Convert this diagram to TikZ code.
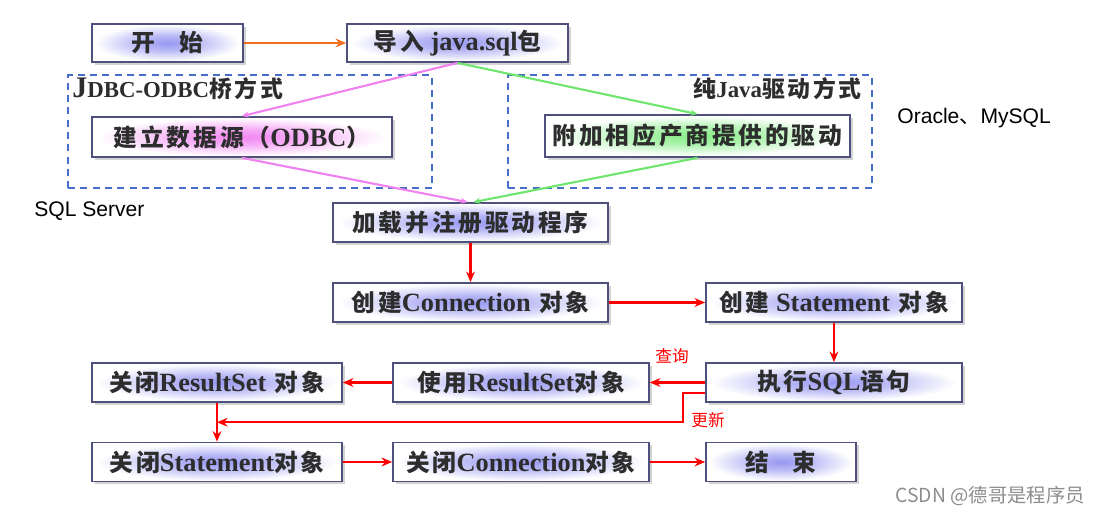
\documentclass[tikz,border=0pt]{standalone}
\usepackage{fontspec}
\setmainfont{Liberation Serif}
\newfontfamily\zh[LetterSpace=12]{Noto Sans CJK SC}
\newfontfamily\zhs{Noto Sans CJK SC}
\newfontfamily\arial{Liberation Sans}
\usetikzlibrary{shadows,arrows.meta,calc}
\definecolor{boxc}{RGB}{80,80,125}
\definecolor{txt}{RGB}{45,45,45}
\definecolor{glowb}{RGB}{140,140,240}
\definecolor{glowp}{RGB}{240,120,240}
\definecolor{glowg}{RGB}{120,235,120}
\definecolor{dashc}{RGB}{70,110,200}
\definecolor{orng}{RGB}{240,110,30}
\definecolor{pinkl}{RGB}{240,130,240}
\definecolor{greenl}{RGB}{110,230,110}
\pgfdeclareradialshading{glowB}{\pgfpoint{0bp}{0bp}}{color(0bp)=(glowb!90!white); color(10bp)=(glowb!60!white); color(24bp)=(white); color(50bp)=(white)}
\pgfdeclareradialshading{glowP}{\pgfpoint{0bp}{0bp}}{color(0bp)=(glowp!90!white); color(10bp)=(glowp!60!white); color(24bp)=(white); color(50bp)=(white)}
\pgfdeclareradialshading{glowG}{\pgfpoint{0bp}{0bp}}{color(0bp)=(glowg!90!white); color(10bp)=(glowg!60!white); color(24bp)=(white); color(50bp)=(white)}
\newcommand{\Z}[1]{{\zh\bfseries\fontsize{13.5}{15}\selectfont #1}}
\tikzset{
  box/.style={draw=boxc, line width=1pt, shade, shading=glowB,
    drop shadow={shadow xshift=1.5pt, shadow yshift=-1.5pt, opacity=0.35},
    minimum height=0.78cm, inner sep=0pt, text=txt,
    font=\bfseries\fontsize{15}{17}\selectfont},
  dbox/.style={draw=dashc, line width=1.1pt, dash pattern=on 4pt off 3pt},
  redarr/.style={red, line width=1.2pt, -{Stealth[length=6pt,width=5pt]}},
  pinkarr/.style={pinkl, line width=1.2pt, -{Stealth[length=4pt,width=3.5pt]}},
  greenarr/.style={greenl, line width=1.2pt, -{Stealth[length=4pt,width=3.5pt]}},
  lab/.style={font=\arial\fontsize{12}{14}\selectfont, text=black},
  redlab/.style={font=\zhs\fontsize{9.5}{11}\selectfont, text=red},
}
\begin{document}
\begin{tikzpicture}[x=0.02cm, y=-0.02cm]
\useasboundingbox (0,0) rectangle (1100,516);
% dashed groups
\node[dbox, minimum width=7.28cm, minimum height=2.26cm] (g1) at (250,131.5) {};
\node[dbox, minimum width=7.28cm, minimum height=2.26cm] (g2) at (690,131.5) {};
\node[anchor=west, inner sep=0pt, text=txt, font=\bfseries\fontsize{13}{15}\selectfont] (g1t) at (72,89) {{\fontsize{17}{17}\selectfont J}DBC-ODBC{\zh\fontsize{13}{15}\selectfont 桥方式}};
\node[anchor=east, inner sep=0pt, text=txt, font=\bfseries\fontsize{13}{15}\selectfont] (g2t) at (862,89) {{\zh\fontsize{13}{15}\selectfont 纯}Java{\zh\fontsize{13}{15}\selectfont 驱动方式}};
% boxes
\node[box, minimum width=3.02cm, minimum height=0.76cm] (start) at (167.5,43) {\Z{开\quad 始}};
\node[box, minimum width=4.42cm, minimum height=0.76cm] (import) at (457.5,43) {\Z{导入} java.sql\Z{包}};
\node[box, shading=glowP, minimum width=6cm, minimum height=0.8cm] (odbc) at (242,137) {\Z{建立数据源（}ODBC\Z{）}};
\node[box, shading=glowG, minimum width=6.1cm, minimum height=0.84cm] (vendor) at (697.5,136) {\Z{附加相应产商提供的驱动}};
\node[box, minimum width=5.5cm] (load) at (470.5,222.5) {\Z{加载并注册驱动程序}};
\node[box, minimum width=5.5cm] (conn) at (470.5,302.5) {\Z{创建}Connection\Z{ 对象}};
\node[box, minimum width=5.12cm] (stmt) at (834,302.5) {\Z{创建} Statement\Z{ 对象}};
\node[box, minimum width=5.12cm] (exec) at (834,382.5) {\Z{执行}SQL\Z{语句}};
\node[box, minimum width=5.12cm] (use) at (521,382.5) {\Z{使用}ResultSet\Z{对象}};
\node[box, minimum width=5cm] (cR) at (217,382.5) {\Z{关闭}ResultSet\Z{ 对象}};
\node[box, minimum width=5cm] (cS) at (217,462) {\Z{关闭}Statement\Z{对象}};
\node[box, minimum width=5.12cm] (cC) at (521,462) {\Z{关闭}Connection\Z{对象}};
\node[box, minimum width=3cm] (end) at (781,462) {\Z{结\quad 束}};
% side labels
\node[lab, anchor=west, inner sep=0pt] (sqls) at (34,211) {SQL Server};
\node[lab, anchor=west, inner sep=0pt] (ora) at (897,118) {Oracle{\zhs 、}MySQL};
\node[redlab, anchor=center, inner sep=0pt] (q) at (672,356) {查询};
\node[redlab, anchor=center, inner sep=0pt] (u) at (708,420) {更新};
\node[anchor=east, inner sep=0pt, text=black!45, font=\zhs\fontsize{11}{13}\selectfont] (wm) at (1085,496) {CSDN @德哥是程序员};
% connectors
\draw[orng, line width=1.2pt, -{Stealth[length=6pt,width=5pt]}] (start) -- (import);
\draw[pinkarr] (import.south) -- (odbc.north);
\draw[greenarr] (import.south) -- (vendor.north);
\draw[pinkarr] (odbc.south) -- ([xshift=-0.06cm]load.north);
\draw[greenarr] (vendor.south) -- ([xshift=0.06cm]load.north);
\draw[redarr] (load) -- (conn);
\draw[redarr] (conn) -- (stmt);
\draw[redarr] (stmt) -- (exec);
\draw[redarr] (exec) -- (use);
\draw[redarr] (use) -- (cR);
\draw[redarr] (cR) -- (cS);
\coordinate (u1) at (683,393);
\coordinate (upd) at ($(cR.south)!0.5!(cS.north)$);
\draw[redarr] (exec.west |- u1) -- (u1) |- (upd);
\draw[redarr] (cS) -- (cC);
\draw[redarr] (cC) -- (end);
\end{tikzpicture}
\end{document}
